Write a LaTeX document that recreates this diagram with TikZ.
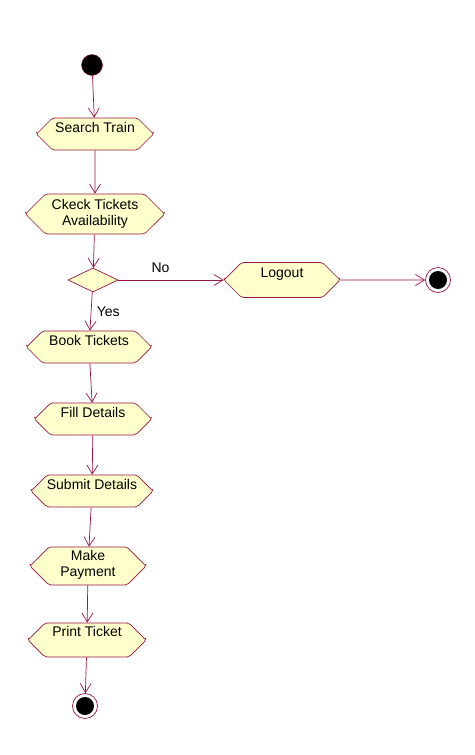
\documentclass[tikz,border=0pt]{standalone}
\usepackage{fontspec}
\setmainfont{Liberation Sans}
\usetikzlibrary{shapes.misc,shapes.geometric,arrows.meta}
\definecolor{actline}{RGB}{150,20,70}
\definecolor{actfill}{RGB}{255,255,204}
\begin{document}
\begin{tikzpicture}
[x=1pt,y=-1pt,
activity/.style={chamfered rectangle, chamfered rectangle xsep=11pt, chamfered rectangle ysep=9pt,
    draw=actline, line width=0.7pt, fill=actfill, align=center, inner xsep=0pt, inner ysep=0pt,
    rounded corners=2pt, text height=5pt, text depth=9pt},
twoline/.style={text height=22pt, text depth=-4pt},
decision/.style={diamond, draw=actline, line width=0.7pt, fill=actfill, inner sep=0pt,
    minimum width=50pt, minimum height=24pt},
start/.style={circle, fill=black, draw=actline, inner sep=0pt, minimum size=21pt},
final/.style={circle, draw=actline, line width=0.7pt, fill=white, inner sep=0pt, minimum size=25pt,
    path picture={\fill[black] (path picture bounding box.center) circle (9pt);}},
flow/.style={draw=actline, line width=0.7pt, -{Straight Barb[length=9pt,width=11pt]}}
]
\tikzset{every node/.style={font=\fontsize{14}{15.5}\selectfont}}
%\tikzset{every node/.style={font=\sffamily}}
\useasboundingbox (0,0) rectangle (474,755);
\node[start] (init) at (92,65) {};
\node[activity, minimum width=117pt] (search) at (95,134) {Search Train};
\node[activity, twoline, minimum width=139pt] (check) at (95,214) {Ckeck Tickets\\Availability};
\node[decision] (choice) at (93,280) {};
\node[activity, minimum width=116pt, text height=6pt, text depth=11pt] (logout) at (282,280) {Logout};
\node[final] (endright) at (438,280) {};
\node[activity, minimum width=125pt] (book) at (89,347) {Book Tickets};
\node[activity, minimum width=117pt] (fill) at (93,419) {Fill Details};
\node[activity, minimum width=122pt] (submit) at (92,491) {Submit Details};
\node[activity, minimum width=116pt, text height=20pt, text depth=-3pt] (pay) at (88,566) {Make\\Payment};
\node[activity, minimum width=118pt, text height=4pt, text depth=12pt] (print) at (87,640) {Print Ticket};
\node[final] (endbottom) at (85,706) {};

\draw[flow] (init) -- (search);
\draw[flow] (search) -- (check);
\draw[flow] (check) -- (choice);
\draw[flow] (choice) -- node[above, pos=0.4, yshift=4pt] {No} (logout);
\draw[flow] (logout) -- (endright);
\draw[flow] (choice) -- node[right, xshift=2pt] {Yes} (book);
\draw[flow] (book) -- (fill);
\draw[flow] (fill) -- (submit);
\draw[flow] (submit) -- (pay);
\draw[flow] (pay) -- (print);
\draw[flow] (print) -- (endbottom);
\end{tikzpicture}
\end{document}
